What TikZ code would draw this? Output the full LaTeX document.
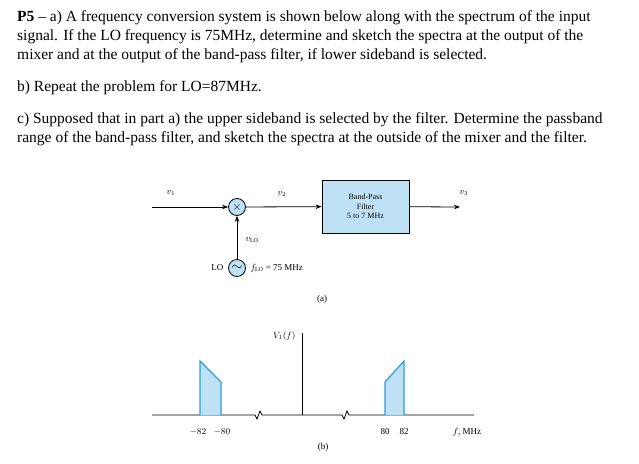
\documentclass[tikz,border=0pt]{standalone}
\usepackage{fontspec}
\setmainfont{Liberation Serif}
\usetikzlibrary{arrows.meta}
\definecolor{fillb}{RGB}{190,225,245}
\definecolor{lineb}{RGB}{40,160,220}
\tikzset{
 wire/.style={line width=0.8pt,-{Stealth[length=6pt]}},
 circ/.style={circle,draw,fill=fillb,line width=0.8pt,minimum size=17pt,inner sep=0},
 lbl/.style={font=\fontsize{9}{10}\selectfont},
 para/.style={anchor=north west,align=left,font=\fontsize{15.5}{19}\selectfont,inner sep=0},
 band/.style={draw=lineb,fill=fillb,line width=1.2pt},
}
\begin{document}
\begin{tikzpicture}[x=1pt,y=-1pt]
\useasboundingbox (0,0) rectangle (639,463);
\node[para] (pa) at (17,10) {\textbf{P5} -- a) A frequency conversion system is shown below along with the spectrum of the input\\ signal. If the LO frequency is 75MHz, determine and sketch the spectra at the output of the\\ mixer and at the output of the band-pass filter, if lower sideband is selected.};
\node[para] (pb) at (17,80) {b) Repeat the problem for LO=87MHz.};
\node[para] (pc) at (17,112) {c) Supposed that in part a) the upper sideband is selected by the filter. Determine the passband\\ range of the band-pass filter, and sketch the spectra at the outside of the mixer and the filter.};
% block diagram
\coordinate (in) at (152,207);
\node[circ,font=\bfseries\large] (mix) at (237,207) {$\times$};
\node[draw,fill=fillb,line width=0.8pt,minimum width=87pt,minimum height=53pt,align=center,font=\fontsize{8}{9.5}\selectfont] (bpf) at (365.5,206.5) {Band-Pass\\Filter\\5 to 7 MHz};
\coordinate (out) at (460,207);
\node[circ] (lo) at (237,268) {\Large$\sim$};
\draw[wire] (in) -- (mix);
\draw[wire] (mix) -- (bpf);
\draw[wire] (bpf) -- (out);
\draw[wire] (lo) -- (mix);
\node[lbl] (v1) at (171,193) {$v_1$};
\node[lbl] (v2) at (282,194) {$v_2$};
\node[lbl] (v3) at (464,193) {$v_3$};
\node[lbl] (vlo) at (252,240) {$v_{\mathrm{LO}}$};
\node[lbl,anchor=east] (lol) at (227,268) {LO};
\node[lbl,anchor=west] (flo) at (247,268) {$f_{\mathrm{LO}}$ = 75 MHz};
\node[lbl] (a) at (322,299) {(a)};
% spectrum
\draw[line width=0.8pt] (152,415) -- (255,415) -- (257,419) -- (260,411) -- (262,415) -- (342,415) -- (344,419) -- (347,411) -- (349,415) -- (474,415);
\draw[line width=0.8pt] (302,415) -- (302,333);
\filldraw[band] (200,415) -- (200,361) -- (221,382) -- (221,415);
\filldraw[band] (385,415) -- (385,382) -- (404,361) -- (404,415);
\node[lbl,anchor=east] (V1) at (299,336) {$V_1(f)$};
\node[lbl] (m82) at (198,432) {$-82$};
\node[lbl] (m80) at (222,432) {$-80$};
\node[lbl] (p80) at (385,432) {80};
\node[lbl] (p82) at (404,432) {82};
\node[lbl] (fm) at (467,432) {$f$, MHz};
\node[lbl] (b) at (323,447) {(b)};
\end{tikzpicture}
\end{document}
